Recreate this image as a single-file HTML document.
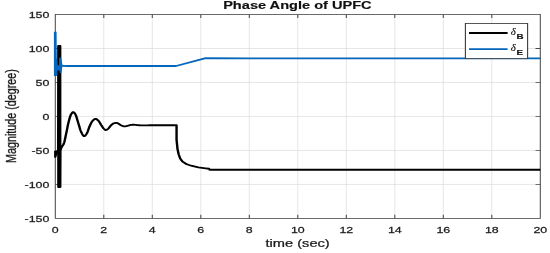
<!DOCTYPE html>
<html><head><meta charset="utf-8"><title>Phase Angle of UPFC</title>
<style>html,body{margin:0;padding:0;background:#fff}body{width:550px;height:253px;overflow:hidden}</style>
</head><body>
<svg width="550" height="253" viewBox="0 0 423.0769 253" preserveAspectRatio="none" style="display:block;filter:blur(0.35px)">
<rect x="0" y="0" width="423.077" height="253" fill="#fff"/>
<path d="M79.846 14.5 V218.4 M117.154 14.5 V218.4 M154.462 14.5 V218.4 M191.769 14.5 V218.4 M229.077 14.5 V218.4 M266.385 14.5 V218.4 M303.692 14.5 V218.4 M341.000 14.5 V218.4 M378.308 14.5 V218.4 M42.538 184.417 H415.615 M42.538 150.433 H415.615 M42.538 116.450 H415.615 M42.538 82.467 H415.615 M42.538 48.483 H415.615" stroke="#dadada" stroke-width="0.6" fill="none"/>
<rect x="42.538" y="14.5" width="373.077" height="203.9" fill="none" stroke="#484848" stroke-width="0.8"/>
<path d="M79.846 218.4 v-3.6 M79.846 14.5 v3.6 M117.154 218.4 v-3.6 M117.154 14.5 v3.6 M154.462 218.4 v-3.6 M154.462 14.5 v3.6 M191.769 218.4 v-3.6 M191.769 14.5 v3.6 M229.077 218.4 v-3.6 M229.077 14.5 v3.6 M266.385 218.4 v-3.6 M266.385 14.5 v3.6 M303.692 218.4 v-3.6 M303.692 14.5 v3.6 M341.000 218.4 v-3.6 M341.000 14.5 v3.6 M378.308 218.4 v-3.6 M378.308 14.5 v3.6 M42.538 184.417 h3.692 M415.615 184.417 h-3.692 M42.538 150.433 h3.692 M415.615 150.433 h-3.692 M42.538 116.450 h3.692 M415.615 116.450 h-3.692 M42.538 82.467 h3.692 M415.615 82.467 h-3.692 M42.538 48.483 h3.692 M415.615 48.483 h-3.692" stroke="#484848" stroke-width="0.8" fill="none"/>
<path d="M42.538 150.773 L42.538 156.890 L43.098 153.832 L43.658 151.793 L44.777 150.433 L44.889 45.901 L44.922 186.999 L44.956 45.901 L44.989 186.999 L45.022 45.901 L45.056 186.999 L45.089 45.901 L45.123 186.999 L45.156 45.901 L45.189 186.999 L45.223 45.901 L45.256 186.999 L45.290 45.901 L45.323 186.999 L45.356 45.901 L45.390 186.999 L45.423 45.901 L45.457 186.999 L45.490 45.901 L45.524 186.999 L45.557 45.901 L45.590 186.999 L45.624 45.901 L45.657 186.999 L45.691 45.901 L45.724 186.999 L45.757 45.901 L45.791 186.999 L45.824 45.901 L45.858 186.999 L45.891 45.901 L45.924 186.999 L45.958 45.901 L45.991 186.999 L46.025 45.901 L46.058 186.999 L46.091 45.901 L46.125 186.999 L46.158 45.901 L46.192 186.999 L46.225 45.901 L46.258 186.999 L46.292 45.901 L46.325 186.999 L46.456 150.433 L46.456 150.433 L46.830 148.957 L47.203 147.710 L47.577 146.795 L47.951 146.072 L48.325 145.396 L48.699 144.626 L49.073 143.620 L49.447 142.148 L49.820 140.209 L50.194 137.983 L50.568 135.649 L50.942 133.387 L51.316 131.079 L51.690 128.613 L52.064 126.146 L52.437 123.831 L52.811 121.823 L53.185 120.004 L53.559 118.253 L53.933 116.667 L54.307 115.343 L54.681 114.375 L55.054 113.606 L55.428 112.909 L55.802 112.368 L56.176 112.067 L56.550 112.086 L56.924 112.422 L57.298 112.989 L57.671 113.697 L58.045 114.461 L58.419 115.469 L58.793 116.826 L59.167 118.413 L59.541 120.110 L59.915 121.799 L60.288 123.361 L60.662 124.923 L61.036 126.568 L61.410 128.206 L61.784 129.745 L62.158 131.095 L62.532 132.166 L62.905 133.118 L63.279 134.051 L63.653 134.894 L64.027 135.574 L64.401 136.019 L64.775 136.159 L65.149 136.000 L65.522 135.619 L65.896 135.074 L66.270 134.420 L66.644 133.715 L67.018 132.930 L67.392 131.818 L67.766 130.473 L68.139 129.028 L68.513 127.615 L68.887 126.364 L69.261 125.333 L69.635 124.329 L70.009 123.360 L70.383 122.457 L70.757 121.653 L71.130 120.979 L71.504 120.465 L71.878 120.019 L72.252 119.599 L72.626 119.239 L73.000 118.975 L73.374 118.839 L73.747 118.866 L74.121 119.048 L74.495 119.350 L74.869 119.734 L75.243 120.163 L75.617 120.601 L75.991 121.148 L76.364 121.837 L76.738 122.619 L77.112 123.447 L77.486 124.273 L77.860 125.052 L78.234 125.777 L78.608 126.532 L78.981 127.277 L79.355 127.962 L79.729 128.535 L80.103 129.002 L80.477 129.459 L80.851 129.831 L81.225 130.030 L81.598 130.002 L81.972 129.818 L82.346 129.526 L82.720 129.170 L83.094 128.793 L83.468 128.385 L83.842 127.844 L84.215 127.219 L84.589 126.566 L84.963 125.945 L85.337 125.412 L85.711 124.976 L86.085 124.546 L86.459 124.137 L86.832 123.773 L87.206 123.480 L87.580 123.281 L87.954 123.168 L88.328 123.070 L88.702 122.990 L89.076 122.934 L89.449 122.908 L89.823 122.945 L90.197 123.099 L90.571 123.331 L90.945 123.601 L91.319 123.866 L91.693 124.122 L92.066 124.422 L92.440 124.745 L92.814 125.063 L93.188 125.351 L93.562 125.582 L93.936 125.760 L94.310 125.934 L94.683 126.095 L95.057 126.230 L95.431 126.327 L95.805 126.371 L96.179 126.358 L96.553 126.298 L96.927 126.206 L97.300 126.093 L97.674 125.971 L98.048 125.853 L98.422 125.732 L98.796 125.584 L99.170 125.424 L99.544 125.267 L99.917 125.130 L100.291 125.028 L100.665 124.960 L101.039 124.895 L101.413 124.837 L101.787 124.790 L102.161 124.757 L102.534 124.742 L102.908 124.749 L103.282 124.775 L103.656 124.816 L104.030 124.868 L104.404 124.927 L104.778 124.988 L105.151 125.047 L105.525 125.101 L105.899 125.144 L106.273 125.179 L106.647 125.216 L107.021 125.253 L107.395 125.289 L107.768 125.323 L108.142 125.354 L108.516 125.381 L108.890 125.402 L109.264 125.416 L109.638 125.421 L110.012 125.420 L110.385 125.416 L110.759 125.409 L111.133 125.399 L111.507 125.388 L111.881 125.375 L112.255 125.362 L112.629 125.349 L113.002 125.335 L113.376 125.322 L113.750 125.311 L114.124 125.301 L114.498 125.293 L114.872 125.288 L115.246 125.286 L115.619 125.286 L115.993 125.286 L116.367 125.286 L116.741 125.286 L117.115 125.286 L117.489 125.286 L117.863 125.286 L118.236 125.286 L118.610 125.286 L118.984 125.286 L119.358 125.286 L119.732 125.286 L120.106 125.286 L120.480 125.286 L120.853 125.286 L121.227 125.286 L121.601 125.286 L121.975 125.286 L122.349 125.286 L122.723 125.286 L123.097 125.286 L123.470 125.286 L123.844 125.286 L124.218 125.286 L124.592 125.286 L124.966 125.286 L125.340 125.286 L125.714 125.286 L126.087 125.286 L126.461 125.286 L126.835 125.286 L127.209 125.286 L127.583 125.286 L127.957 125.286 L128.331 125.286 L128.704 125.286 L129.078 125.286 L129.452 125.286 L129.826 125.286 L130.200 125.286 L130.574 125.286 L130.948 125.286 L131.321 125.286 L131.695 125.286 L132.069 125.286 L132.443 125.286 L132.817 125.286 L133.191 125.286 L133.565 125.286 L133.938 125.286 L134.312 125.286 L134.686 125.286 L135.060 125.286 L135.434 125.286 L135.808 125.286 L135.808 125.286 L135.808 139.559 L136.554 149.074 L137.487 154.511 L138.606 158.589 L140.471 161.648 L143.269 164.027 L147.000 165.726 L152.596 167.289 L158.192 168.309 L160.804 168.784 L161.177 169.736 L415.615 169.736" stroke="#000" stroke-width="1.85" fill="none" stroke-linejoin="round"/>
<path d="M41.462 31.8 L43.538 31.8 L43.692 58 L44.308 65.3 L45.308 65.3 L45.462 57.8 L47.077 57.8 L48.000 64.6 L48.000 66.5 L47.308 72.8 L46.000 73.2 L45.692 70.6 L44.000 70.6 L43.769 76 L41.462 76Z" fill="#0566bb"/>
<path d="M47.575 65.951 L51.865 66.019 L135.435 66.019 L158.192 58.135 L191.769 58.339 L415.615 58.339" stroke="#0566bb" stroke-width="1.8" fill="none" stroke-linejoin="round"/>
<rect x="358.000" y="23.5" width="47.846" height="35.1" fill="#fff" stroke="#3a3a3a" stroke-width="0.85"/>
<path d="M360.769 33 H390.462" stroke="#000" stroke-width="1.85"/>
<path d="M360.769 49.1 H390.462" stroke="#0566bb" stroke-width="1.8"/>
<text transform="translate(392.923 34.700) scale(0.7912 1)" font-family="'Liberation Serif', 'DejaVu Serif', serif" font-size="10.5" fill="#111" stroke="#111" stroke-width="0.15" text-anchor="start" font-style="italic">δ</text>
<text transform="translate(397.308 38.700) scale(1.0187 1)" font-family="'Liberation Sans', Arial, sans-serif" font-size="7.4" fill="#111" stroke="#111" stroke-width="0.15" text-anchor="start" font-weight="bold">B</text>
<text transform="translate(392.923 50.800) scale(0.7912 1)" font-family="'Liberation Serif', 'DejaVu Serif', serif" font-size="10.5" fill="#111" stroke="#111" stroke-width="0.15" text-anchor="start" font-style="italic">δ</text>
<text transform="translate(397.308 54.800) scale(1.0187 1)" font-family="'Liberation Sans', Arial, sans-serif" font-size="7.4" fill="#111" stroke="#111" stroke-width="0.15" text-anchor="start" font-weight="bold">E</text>
<text transform="translate(42.538 232.900) scale(0.9733 1)" font-family="'Liberation Sans', Arial, sans-serif" font-size="9.8" fill="#1c1c1c" stroke="#1c1c1c" stroke-width="0.25" text-anchor="middle" >0</text>
<text transform="translate(79.846 232.900) scale(0.9733 1)" font-family="'Liberation Sans', Arial, sans-serif" font-size="9.8" fill="#1c1c1c" stroke="#1c1c1c" stroke-width="0.25" text-anchor="middle" >2</text>
<text transform="translate(117.154 232.900) scale(0.9733 1)" font-family="'Liberation Sans', Arial, sans-serif" font-size="9.8" fill="#1c1c1c" stroke="#1c1c1c" stroke-width="0.25" text-anchor="middle" >4</text>
<text transform="translate(154.462 232.900) scale(0.9733 1)" font-family="'Liberation Sans', Arial, sans-serif" font-size="9.8" fill="#1c1c1c" stroke="#1c1c1c" stroke-width="0.25" text-anchor="middle" >6</text>
<text transform="translate(191.769 232.900) scale(0.9733 1)" font-family="'Liberation Sans', Arial, sans-serif" font-size="9.8" fill="#1c1c1c" stroke="#1c1c1c" stroke-width="0.25" text-anchor="middle" >8</text>
<text transform="translate(229.077 232.900) scale(0.9733 1)" font-family="'Liberation Sans', Arial, sans-serif" font-size="9.8" fill="#1c1c1c" stroke="#1c1c1c" stroke-width="0.25" text-anchor="middle" >10</text>
<text transform="translate(266.385 232.900) scale(0.9733 1)" font-family="'Liberation Sans', Arial, sans-serif" font-size="9.8" fill="#1c1c1c" stroke="#1c1c1c" stroke-width="0.25" text-anchor="middle" >12</text>
<text transform="translate(303.692 232.900) scale(0.9733 1)" font-family="'Liberation Sans', Arial, sans-serif" font-size="9.8" fill="#1c1c1c" stroke="#1c1c1c" stroke-width="0.25" text-anchor="middle" >14</text>
<text transform="translate(341.000 232.900) scale(0.9733 1)" font-family="'Liberation Sans', Arial, sans-serif" font-size="9.8" fill="#1c1c1c" stroke="#1c1c1c" stroke-width="0.25" text-anchor="middle" >16</text>
<text transform="translate(378.308 232.900) scale(0.9733 1)" font-family="'Liberation Sans', Arial, sans-serif" font-size="9.8" fill="#1c1c1c" stroke="#1c1c1c" stroke-width="0.25" text-anchor="middle" >18</text>
<text transform="translate(415.615 232.900) scale(0.9733 1)" font-family="'Liberation Sans', Arial, sans-serif" font-size="9.8" fill="#1c1c1c" stroke="#1c1c1c" stroke-width="0.25" text-anchor="middle" >20</text>
<text transform="translate(37.923 222.100) scale(0.9733 1)" font-family="'Liberation Sans', Arial, sans-serif" font-size="9.8" fill="#1c1c1c" stroke="#1c1c1c" stroke-width="0.25" text-anchor="end" >-150</text>
<text transform="translate(37.923 188.117) scale(0.9733 1)" font-family="'Liberation Sans', Arial, sans-serif" font-size="9.8" fill="#1c1c1c" stroke="#1c1c1c" stroke-width="0.25" text-anchor="end" >-100</text>
<text transform="translate(37.923 154.133) scale(0.9733 1)" font-family="'Liberation Sans', Arial, sans-serif" font-size="9.8" fill="#1c1c1c" stroke="#1c1c1c" stroke-width="0.25" text-anchor="end" >-50</text>
<text transform="translate(37.923 120.150) scale(0.9733 1)" font-family="'Liberation Sans', Arial, sans-serif" font-size="9.8" fill="#1c1c1c" stroke="#1c1c1c" stroke-width="0.25" text-anchor="end" >0</text>
<text transform="translate(37.923 86.167) scale(0.9733 1)" font-family="'Liberation Sans', Arial, sans-serif" font-size="9.8" fill="#1c1c1c" stroke="#1c1c1c" stroke-width="0.25" text-anchor="end" >50</text>
<text transform="translate(37.923 52.183) scale(0.9733 1)" font-family="'Liberation Sans', Arial, sans-serif" font-size="9.8" fill="#1c1c1c" stroke="#1c1c1c" stroke-width="0.25" text-anchor="end" >100</text>
<text transform="translate(37.923 18.200) scale(0.9733 1)" font-family="'Liberation Sans', Arial, sans-serif" font-size="9.8" fill="#1c1c1c" stroke="#1c1c1c" stroke-width="0.25" text-anchor="end" >150</text>
<text transform="translate(228.923 247.300) scale(1.0434 1)" font-family="'Liberation Sans', Arial, sans-serif" font-size="10.8" fill="#1a1a1a" stroke="#1a1a1a" stroke-width="0.25" text-anchor="middle" >time (sec)</text>
<text transform="translate(12.154 116.100) rotate(-90) scale(1 1.0733)" font-family="'Liberation Sans', Arial, sans-serif" font-size="10.75" fill="#1a1a1a" stroke="#1a1a1a" stroke-width="0.25" text-anchor="middle" >Magnitude (degree)</text>
<text transform="translate(228.769 9.100) scale(1.0210 1)" font-family="'Liberation Sans', Arial, sans-serif" font-size="11.0" fill="#111" stroke="#111" stroke-width="0.15" text-anchor="middle" font-weight="bold">Phase Angle of UPFC</text>
</svg>
</body></html>
